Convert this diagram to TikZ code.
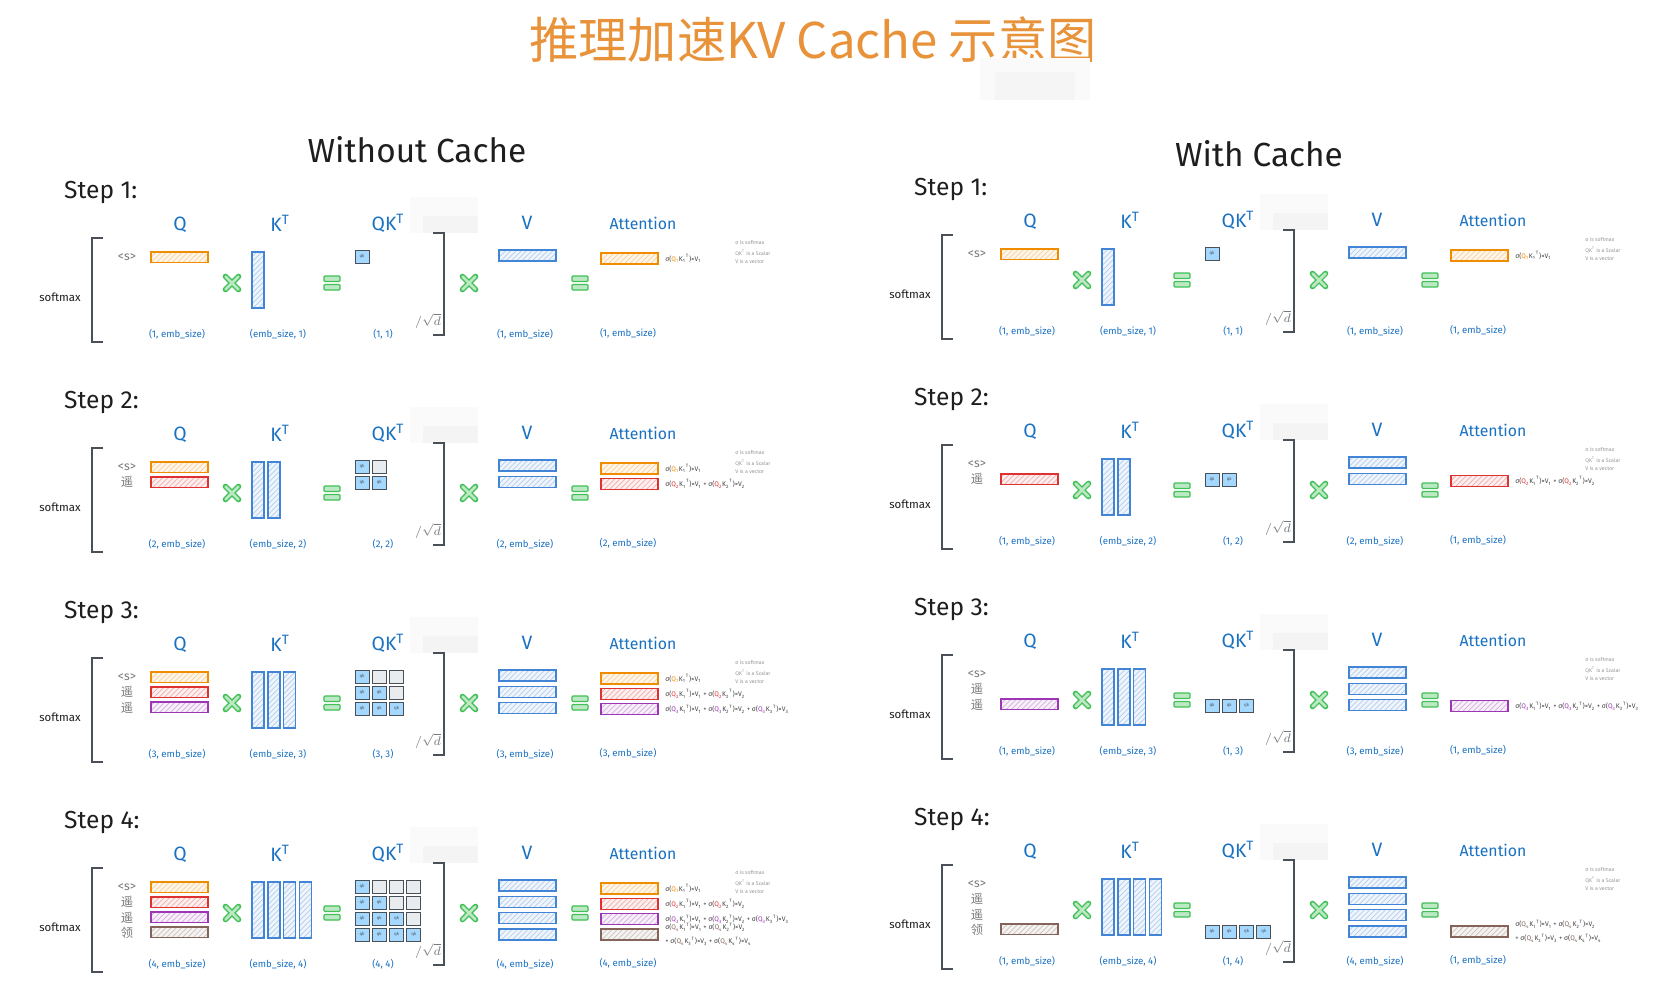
\documentclass[tikz,border=0pt]{standalone}
\usepackage{fontspec}
\setmainfont{Fira Sans}
\newfontfamily\cjk{Noto Sans CJK SC}
\usetikzlibrary{patterns}

\definecolor{titleorange}{HTML}{E8923A}
\definecolor{inkblack}{HTML}{1E1E1E}
\definecolor{labelblue}{HTML}{1971C2}
\definecolor{barblue}{HTML}{4285D6}
\definecolor{qorange}{HTML}{F08C00}
\definecolor{qred}{HTML}{E03131}
\definecolor{qpurple}{HTML}{9C36B5}
\definecolor{qbrown}{HTML}{846358}
\definecolor{cellblue}{HTML}{A5D8FF}
\definecolor{cellgray}{HTML}{E9ECEF}
\definecolor{celledge}{HTML}{495057}
\definecolor{signgreen}{HTML}{40C057}
\definecolor{tokengray}{HTML}{7A7A7A}

\tikzset{
  titletext/.style={text=titleorange, font=\cjk\fontsize{28}{30}\selectfont},
  heading/.style={text=inkblack, font=\fontsize{19}{21}\selectfont},
  steplabel/.style={text=inkblack, font=\fontsize{14}{16}\selectfont, anchor=west},
  matlabel/.style={text=labelblue, font=\fontsize{11}{13}\selectfont},
  attlabel/.style={text=labelblue, font=\fontsize{9}{11}\selectfont},
  shapelabel/.style={text=labelblue, font=\fontsize{5.5}{6}\selectfont},
  softmaxtext/.style={text=inkblack, font=\fontsize{6.5}{7}\selectfont},
  token/.style={text=tokengray, font=\fontsize{7}{8}\selectfont},
  sqrttext/.style={text=tokengray, font=\fontsize{7}{8}\selectfont},
  formula/.style={text=inkblack!85, font=\fontsize{3.8}{4.6}\selectfont, anchor=west, inner sep=0pt},
  note/.style={text=tokengray!80, font=\fontsize{3}{3.5}\selectfont, anchor=west, inner sep=0pt},
  qbar/.style={draw=#1, line width=0.8pt, preaction={fill=#1!8}, pattern=north east lines, pattern color=#1!40},
  qkcell/.style={draw=celledge, fill=cellblue, line width=0.5pt, minimum width=0.28cm, minimum height=0.26cm, inner sep=0pt, font=\fontsize{2.5}{3}\selectfont, text=celledge},
  qkempty/.style={qkcell, fill=cellgray},
  bracket/.style={draw=celledge, line width=1.1pt},
  signline/.style={draw=signgreen, line width=3.2pt, line cap=round},
  signfill/.style={draw=signgreen!35, line width=1.6pt, line cap=round},
  signbox/.style={draw=signgreen, fill=signgreen!35, line width=0.7pt, rounded corners=0.6pt},
}

\newif\ifcachemode

% green multiply / equals signs around a named coordinate
\newcommand\mulsign[1]{%
  \draw[signline] ([shift={(-6.5,-6.5)}]#1) -- ([shift={(6.5,6.5)}]#1) ([shift={(-6.5,6.5)}]#1) -- ([shift={(6.5,-6.5)}]#1);
  \draw[signfill] ([shift={(-6.5,-6.5)}]#1) -- ([shift={(6.5,6.5)}]#1) ([shift={(-6.5,6.5)}]#1) -- ([shift={(6.5,-6.5)}]#1);}
\newcommand\eqsign[1]{%
  \draw[signbox] ([shift={(-8,-7)}]#1) rectangle ([shift={(8,-1.5)}]#1);
  \draw[signbox] ([shift={(-8,1.5)}]#1) rectangle ([shift={(8,7)}]#1);}

\newcommand\attterm[3]{σ(\textcolor{#1}{Q\textsubscript{#2}}K\textsubscript{#3}\textsuperscript{T})×V\textsubscript{#3}}
\newcommand\attform[1]{\ifcase#1\or
  \attterm{qorange}{1}{1}\or
  \attterm{qred}{2}{1} + \attterm{qred}{2}{2}\or
  \attterm{qpurple}{3}{1} + \attterm{qpurple}{3}{2} + \attterm{qpurple}{3}{3}\or
  \shortstack[l]{\attterm{qbrown}{4}{1} + \attterm{qbrown}{4}{2}\\+ \attterm{qbrown}{4}{3} + \attterm{qbrown}{4}{4}}\fi}

% one step: #1 name prefix, #2 x shift, #3 y shift, #4 step number
\newcommand\stepblock[4]{%
\begin{scope}[shift={(#2,#3)}]
  \fill[gray!4] (410,197) rectangle (478,233);
  \fill[gray!9] (423,216) rectangle (478,233);
  \node[steplabel] (#1-title) at (58,192) {Step #4:};
  \node[softmaxtext] (#1-softmax) at (60,297) {softmax};
  \draw[bracket] (103,238) -- (92,238) -- (92,342) -- (103,342);
  \draw[bracket] (433,233) -- (444,233) -- (444,335) -- (433,335);
  \node[sqrttext] (#1-sqrt) at (428,321) {$/\sqrt{d}$};
  \node[matlabel] (#1-Q) at (180,225) {Q};
  \node[matlabel] (#1-KT) at (280,223) {K\textsuperscript{T}};
  \node[matlabel] (#1-QKT) at (388,223) {QK\textsuperscript{T}};
  \node[matlabel] (#1-V) at (527,223) {V};
  \node[attlabel] (#1-Att) at (643,223) {Attention};
  \coordinate (#1-mul1) at (232,283);
  \coordinate (#1-eq1) at (332,283);
  \coordinate (#1-mul2) at (469,283);
  \coordinate (#1-eq2) at (580,283);
  \mulsign{#1-mul1} \eqsign{#1-eq1} \mulsign{#1-mul2} \eqsign{#1-eq2}
  \ifcachemode\def\firstrow{#4}\else\def\firstrow{1}\fi
  \foreach \i/\rc/\tok in {1/qorange/{<s>},2/qred/{\cjk 遥},3/qpurple/{\cjk 遥},4/qbrown/{\cjk 领}}{%
    \ifnum\i>#4\relax\else
      \node[token] (#1-tok\i) at (127,{257+15.3*(\i-1)}) {\tok};
      \draw[qbar=barblue] ({252+15.8*(\i-1)},252) rectangle ({264+15.8*(\i-1)},308);
      \draw[qbar=barblue] (499,{250+16.3*(\i-1)}) rectangle (556,{261+16.3*(\i-1)});
      \ifnum\i<\firstrow\relax\else
        \draw[qbar=\rc] (151,{252+15*(\i-1)}) rectangle (208,{262.5+15*(\i-1)});
        \draw[qbar=\rc] (601,{253+15.3*(\i-1)}) rectangle (658,{264+15.3*(\i-1)});
        \node[formula] (#1-form\i) at (665,{258.5+15.3*(\i-1)}) {\attform{\i}};
        \foreach \j in {1,...,#4}{%
          \ifnum\j>\i\relax
            \node[qkempty] (#1-cell\i\j) at ({362+17.3*(\j-1)},{256.5+16*(\i-1)}) {};
          \else
            \node[qkcell] (#1-cell\i\j) at ({362+17.3*(\j-1)},{256.5+16*(\i-1)}) {qk};
          \fi}
      \fi
    \fi}
  \node[note] (#1-note1) at (735,242) {σ is softmax};
  \node[note] (#1-note2) at (735,253) {QK\textsuperscript{T} is a Scalar};
  \node[note] (#1-note3) at (735,261) {V is a vector};
  \node[shapelabel] (#1-dimQ) at (177,334) {\ifcachemode(1, emb\_size)\else(#4, emb\_size)\fi};
  \node[shapelabel] (#1-dimK) at (278,334) {(emb\_size, #4)};
  \node[shapelabel] (#1-dimQK) at (383,334) {\ifcachemode(1, #4)\else(#4, #4)\fi};
  \node[shapelabel] (#1-dimV) at (525,334) {(#4, emb\_size)};
  \node[shapelabel] (#1-dimAtt) at (628,333) {\ifcachemode(1, emb\_size)\else(#4, emb\_size)\fi};
\end{scope}}

\begin{document}
\begin{tikzpicture}[x=0.02cm, y=-0.02cm]
  \useasboundingbox (0,0) rectangle (1668,1004);
  \fill[white] (0,0) rectangle (1668,1004);

  % title
  \node[titletext] (title) at (813,40) {推理加速KV Cache 示意图};
  \fill[gray!4] (980,58) rectangle (1090,100);
  \fill[gray!8] (995,72) rectangle (1075,100);

  \node[heading] (nocache) at (417,150) {Without Cache};
  \node[heading] (withcache) at (1259,154) {With Cache};

  % without cache
  \cachemodefalse
  \stepblock{L1}{0}{0}{1}
  \stepblock{L2}{0}{210}{2}
  \stepblock{L3}{0}{420}{3}
  \stepblock{L4}{0}{630}{4}

  % with cache
  \cachemodetrue
  \stepblock{R1}{850}{-3}{1}
  \stepblock{R2}{850}{207}{2}
  \stepblock{R3}{850}{417}{3}
  \stepblock{R4}{850}{627}{4}
\end{tikzpicture}
\end{document}
